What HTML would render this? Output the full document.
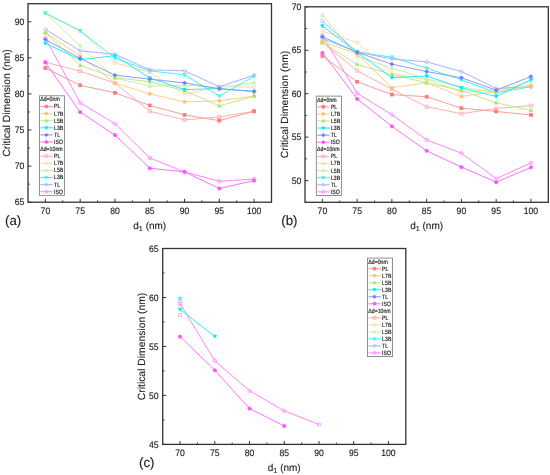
<!DOCTYPE html>
<html><head><meta charset="utf-8"><style>
html,body{margin:0;padding:0;background:#fff;}
body{width:550px;height:475px;overflow:hidden;}
svg{display:block;font-family:"Liberation Sans", sans-serif;will-change:transform;text-rendering:geometricPrecision;}
</style></head><body>
<svg width="550" height="475" viewBox="0 0 550 475">
<rect width="550" height="475" fill="#fff"/>
<polyline points="45.39,62.17 80.18,71.19 114.96,83.10 149.75,111.25 184.54,119.91 219.32,117.03 254.11,111.25" fill="none" stroke="#ffb0b0" stroke-width="1.0" stroke-linejoin="round"/>
<rect x="43.82" y="60.59" width="3.15" height="3.15" fill="none" stroke="#ffb0b0" stroke-width="0.8"/>
<rect x="78.60" y="69.61" width="3.15" height="3.15" fill="none" stroke="#ffb0b0" stroke-width="0.8"/>
<rect x="113.39" y="81.52" width="3.15" height="3.15" fill="none" stroke="#ffb0b0" stroke-width="0.8"/>
<rect x="148.18" y="109.68" width="3.15" height="3.15" fill="none" stroke="#ffb0b0" stroke-width="0.8"/>
<rect x="182.96" y="118.34" width="3.15" height="3.15" fill="none" stroke="#ffb0b0" stroke-width="0.8"/>
<rect x="217.75" y="115.45" width="3.15" height="3.15" fill="none" stroke="#ffb0b0" stroke-width="0.8"/>
<rect x="252.53" y="109.68" width="3.15" height="3.15" fill="none" stroke="#ffb0b0" stroke-width="0.8"/>
<polyline points="45.39,13.08 80.18,31.13 114.96,62.89 149.75,72.27 184.54,94.29 219.32,86.71 254.11,87.07" fill="none" stroke="#ffd9a6" stroke-width="1.0" stroke-linejoin="round"/>
<circle cx="45.39" cy="13.08" r="1.75" fill="none" stroke="#ffd9a6" stroke-width="0.8"/>
<circle cx="80.18" cy="31.13" r="1.75" fill="none" stroke="#ffd9a6" stroke-width="0.8"/>
<circle cx="114.96" cy="62.89" r="1.75" fill="none" stroke="#ffd9a6" stroke-width="0.8"/>
<circle cx="149.75" cy="72.27" r="1.75" fill="none" stroke="#ffd9a6" stroke-width="0.8"/>
<circle cx="184.54" cy="94.29" r="1.75" fill="none" stroke="#ffd9a6" stroke-width="0.8"/>
<circle cx="219.32" cy="86.71" r="1.75" fill="none" stroke="#ffd9a6" stroke-width="0.8"/>
<circle cx="254.11" cy="87.07" r="1.75" fill="none" stroke="#ffd9a6" stroke-width="0.8"/>
<polyline points="45.39,13.08 80.18,45.71 114.96,78.05 149.75,85.99 184.54,85.27 219.32,87.43 254.11,82.59" fill="none" stroke="#c8f2a2" stroke-width="1.0" stroke-linejoin="round"/>
<polygon points="45.39,11.16 47.32,14.43 43.47,14.43" fill="#c8f2a2" fill-opacity="0.55" stroke="#c8f2a2" stroke-width="0.8"/>
<polygon points="80.18,43.78 82.10,47.06 78.25,47.06" fill="#c8f2a2" fill-opacity="0.55" stroke="#c8f2a2" stroke-width="0.8"/>
<polygon points="114.96,76.12 116.89,79.39 113.04,79.39" fill="#c8f2a2" fill-opacity="0.55" stroke="#c8f2a2" stroke-width="0.8"/>
<polygon points="149.75,84.06 151.68,87.33 147.82,87.33" fill="#c8f2a2" fill-opacity="0.55" stroke="#c8f2a2" stroke-width="0.8"/>
<polygon points="184.54,83.34 186.46,86.61 182.61,86.61" fill="#c8f2a2" fill-opacity="0.55" stroke="#c8f2a2" stroke-width="0.8"/>
<polygon points="219.32,85.51 221.25,88.78 217.40,88.78" fill="#c8f2a2" fill-opacity="0.55" stroke="#c8f2a2" stroke-width="0.8"/>
<polygon points="254.11,80.67 256.03,83.94 252.18,83.94" fill="#c8f2a2" fill-opacity="0.55" stroke="#c8f2a2" stroke-width="0.8"/>
<polyline points="45.39,13.08 80.18,30.77 114.96,58.20 149.75,70.83 184.54,74.87 219.32,96.09 254.11,76.24" fill="none" stroke="#44f2f4" stroke-width="1.0" stroke-linejoin="round"/>
<polygon points="45.39,15.01 47.32,11.74 43.47,11.74" fill="#44f2f4" fill-opacity="0.55" stroke="#44f2f4" stroke-width="0.8"/>
<polygon points="80.18,32.69 82.10,29.42 78.25,29.42" fill="#44f2f4" fill-opacity="0.55" stroke="#44f2f4" stroke-width="0.8"/>
<polygon points="114.96,60.12 116.89,56.85 113.04,56.85" fill="#44f2f4" fill-opacity="0.55" stroke="#44f2f4" stroke-width="0.8"/>
<polygon points="149.75,72.75 151.68,69.48 147.82,69.48" fill="#44f2f4" fill-opacity="0.55" stroke="#44f2f4" stroke-width="0.8"/>
<polygon points="184.54,76.80 186.46,73.52 182.61,73.52" fill="#44f2f4" fill-opacity="0.55" stroke="#44f2f4" stroke-width="0.8"/>
<polygon points="219.32,98.02 221.25,94.75 217.40,94.75" fill="#44f2f4" fill-opacity="0.55" stroke="#44f2f4" stroke-width="0.8"/>
<polygon points="254.11,78.17 256.03,74.90 252.18,74.90" fill="#44f2f4" fill-opacity="0.55" stroke="#44f2f4" stroke-width="0.8"/>
<polyline points="45.39,29.40 80.18,50.83 114.96,54.30 149.75,69.75 184.54,70.83 219.32,86.71 254.11,75.16" fill="none" stroke="#a8b2fb" stroke-width="1.0" stroke-linejoin="round"/>
<polygon points="45.39,27.30 47.49,29.40 45.39,31.50 43.29,29.40" fill="none" stroke="#a8b2fb" stroke-width="0.8"/>
<polygon points="80.18,48.73 82.28,50.83 80.18,52.93 78.08,50.83" fill="none" stroke="#a8b2fb" stroke-width="0.8"/>
<polygon points="114.96,52.20 117.06,54.30 114.96,56.40 112.86,54.30" fill="none" stroke="#a8b2fb" stroke-width="0.8"/>
<polygon points="149.75,67.65 151.85,69.75 149.75,71.85 147.65,69.75" fill="none" stroke="#a8b2fb" stroke-width="0.8"/>
<polygon points="184.54,68.73 186.64,70.83 184.54,72.93 182.44,70.83" fill="none" stroke="#a8b2fb" stroke-width="0.8"/>
<polygon points="219.32,84.61 221.42,86.71 219.32,88.81 217.22,86.71" fill="none" stroke="#a8b2fb" stroke-width="0.8"/>
<polygon points="254.11,73.06 256.21,75.16 254.11,77.26 252.01,75.16" fill="none" stroke="#a8b2fb" stroke-width="0.8"/>
<polyline points="45.39,37.99 80.18,102.88 114.96,123.67 149.75,157.95 184.54,171.88 219.32,181.27 254.11,179.10" fill="none" stroke="#ff85ff" stroke-width="1.0" stroke-linejoin="round"/>
<circle cx="45.39" cy="37.99" r="1.75" fill="none" stroke="#ff85ff" stroke-width="0.8"/>
<circle cx="80.18" cy="102.88" r="1.75" fill="none" stroke="#ff85ff" stroke-width="0.8"/>
<circle cx="114.96" cy="123.67" r="1.75" fill="none" stroke="#ff85ff" stroke-width="0.8"/>
<circle cx="149.75" cy="157.95" r="1.75" fill="none" stroke="#ff85ff" stroke-width="0.8"/>
<circle cx="184.54" cy="171.88" r="1.75" fill="none" stroke="#ff85ff" stroke-width="0.8"/>
<circle cx="219.32" cy="181.27" r="1.75" fill="none" stroke="#ff85ff" stroke-width="0.8"/>
<circle cx="254.11" cy="179.10" r="1.75" fill="none" stroke="#ff85ff" stroke-width="0.8"/>
<polyline points="45.39,67.94 80.18,85.27 114.96,92.84 149.75,105.48 184.54,114.86 219.32,120.63 254.11,111.25" fill="none" stroke="#ff9c9c" stroke-width="1.0" stroke-linejoin="round"/>
<rect x="43.95" y="66.50" width="2.88" height="2.88" fill="#ff7b7b" stroke="#ff7b7b" stroke-width="0.8"/>
<rect x="78.74" y="83.83" width="2.88" height="2.88" fill="#ff7b7b" stroke="#ff7b7b" stroke-width="0.8"/>
<rect x="113.52" y="91.40" width="2.88" height="2.88" fill="#ff7b7b" stroke="#ff7b7b" stroke-width="0.8"/>
<rect x="148.31" y="104.04" width="2.88" height="2.88" fill="#ff7b7b" stroke="#ff7b7b" stroke-width="0.8"/>
<rect x="183.10" y="113.42" width="2.88" height="2.88" fill="#ff7b7b" stroke="#ff7b7b" stroke-width="0.8"/>
<rect x="217.88" y="119.19" width="2.88" height="2.88" fill="#ff7b7b" stroke="#ff7b7b" stroke-width="0.8"/>
<rect x="252.67" y="109.81" width="2.88" height="2.88" fill="#ff7b7b" stroke="#ff7b7b" stroke-width="0.8"/>
<polyline points="45.39,32.57 80.18,56.03 114.96,83.10 149.75,93.93 184.54,101.87 219.32,100.78 254.11,96.09" fill="none" stroke="#ffd08e" stroke-width="1.0" stroke-linejoin="round"/>
<circle cx="45.39" cy="32.57" r="1.60" fill="#ffc46e" stroke="#ffc46e" stroke-width="0.8"/>
<circle cx="80.18" cy="56.03" r="1.60" fill="#ffc46e" stroke="#ffc46e" stroke-width="0.8"/>
<circle cx="114.96" cy="83.10" r="1.60" fill="#ffc46e" stroke="#ffc46e" stroke-width="0.8"/>
<circle cx="149.75" cy="93.93" r="1.60" fill="#ffc46e" stroke="#ffc46e" stroke-width="0.8"/>
<circle cx="184.54" cy="101.87" r="1.60" fill="#ffc46e" stroke="#ffc46e" stroke-width="0.8"/>
<circle cx="219.32" cy="100.78" r="1.60" fill="#ffc46e" stroke="#ffc46e" stroke-width="0.8"/>
<circle cx="254.11" cy="96.09" r="1.60" fill="#ffc46e" stroke="#ffc46e" stroke-width="0.8"/>
<polyline points="45.39,32.79 80.18,65.42 114.96,77.69 149.75,81.66 184.54,90.68 219.32,105.84 254.11,96.09" fill="none" stroke="#b8ee88" stroke-width="1.0" stroke-linejoin="round"/>
<polygon points="45.39,31.03 47.15,34.02 43.63,34.02" fill="#a6e866" stroke="#a6e866" stroke-width="0.8"/>
<polygon points="80.18,63.66 81.94,66.65 78.42,66.65" fill="#a6e866" stroke="#a6e866" stroke-width="0.8"/>
<polygon points="114.96,75.93 116.72,78.92 113.20,78.92" fill="#a6e866" stroke="#a6e866" stroke-width="0.8"/>
<polygon points="149.75,79.90 151.51,82.89 147.99,82.89" fill="#a6e866" stroke="#a6e866" stroke-width="0.8"/>
<polygon points="184.54,88.92 186.30,91.91 182.78,91.91" fill="#a6e866" stroke="#a6e866" stroke-width="0.8"/>
<polygon points="219.32,104.08 221.08,107.07 217.56,107.07" fill="#a6e866" stroke="#a6e866" stroke-width="0.8"/>
<polygon points="254.11,94.33 255.87,97.32 252.35,97.32" fill="#a6e866" stroke="#a6e866" stroke-width="0.8"/>
<polyline points="45.39,43.40 80.18,59.64 114.96,55.67 149.75,78.05 184.54,89.60 219.32,88.51 254.11,91.40" fill="none" stroke="#22f0f2" stroke-width="1.0" stroke-linejoin="round"/>
<polygon points="45.39,45.16 47.15,42.17 43.63,42.17" fill="#00eef0" stroke="#00eef0" stroke-width="0.8"/>
<polygon points="80.18,61.40 81.94,58.41 78.42,58.41" fill="#00eef0" stroke="#00eef0" stroke-width="0.8"/>
<polygon points="114.96,57.43 116.72,54.44 113.20,54.44" fill="#00eef0" stroke="#00eef0" stroke-width="0.8"/>
<polygon points="149.75,79.81 151.51,76.82 147.99,76.82" fill="#00eef0" stroke="#00eef0" stroke-width="0.8"/>
<polygon points="184.54,91.36 186.30,88.36 182.78,88.36" fill="#00eef0" stroke="#00eef0" stroke-width="0.8"/>
<polygon points="219.32,90.27 221.08,87.28 217.56,87.28" fill="#00eef0" stroke="#00eef0" stroke-width="0.8"/>
<polygon points="254.11,93.16 255.87,90.17 252.35,90.17" fill="#00eef0" stroke="#00eef0" stroke-width="0.8"/>
<polyline points="45.39,39.43 80.18,58.41 114.96,75.16 149.75,79.13 184.54,82.88 219.32,88.87 254.11,91.55" fill="none" stroke="#8e9bfa" stroke-width="1.0" stroke-linejoin="round"/>
<polygon points="45.39,37.51 47.31,39.43 45.39,41.35 43.47,39.43" fill="#6f7ff8" stroke="#6f7ff8" stroke-width="0.8"/>
<polygon points="80.18,56.49 82.10,58.41 80.18,60.33 78.26,58.41" fill="#6f7ff8" stroke="#6f7ff8" stroke-width="0.8"/>
<polygon points="114.96,73.24 116.88,75.16 114.96,77.08 113.04,75.16" fill="#6f7ff8" stroke="#6f7ff8" stroke-width="0.8"/>
<polygon points="149.75,77.21 151.67,79.13 149.75,81.05 147.83,79.13" fill="#6f7ff8" stroke="#6f7ff8" stroke-width="0.8"/>
<polygon points="184.54,80.96 186.46,82.88 184.54,84.80 182.62,82.88" fill="#6f7ff8" stroke="#6f7ff8" stroke-width="0.8"/>
<polygon points="219.32,86.95 221.24,88.87 219.32,90.79 217.40,88.87" fill="#6f7ff8" stroke="#6f7ff8" stroke-width="0.8"/>
<polygon points="254.11,89.63 256.03,91.55 254.11,93.47 252.19,91.55" fill="#6f7ff8" stroke="#6f7ff8" stroke-width="0.8"/>
<polyline points="45.39,62.38 80.18,112.19 114.96,135.07 149.75,168.27 184.54,171.88 219.32,188.49 254.11,180.55" fill="none" stroke="#ff70ff" stroke-width="1.0" stroke-linejoin="round"/>
<circle cx="45.39" cy="62.38" r="1.60" fill="#ff52ff" stroke="#ff52ff" stroke-width="0.8"/>
<circle cx="80.18" cy="112.19" r="1.60" fill="#ff52ff" stroke="#ff52ff" stroke-width="0.8"/>
<circle cx="114.96" cy="135.07" r="1.60" fill="#ff52ff" stroke="#ff52ff" stroke-width="0.8"/>
<circle cx="149.75" cy="168.27" r="1.60" fill="#ff52ff" stroke="#ff52ff" stroke-width="0.8"/>
<circle cx="184.54" cy="171.88" r="1.60" fill="#ff52ff" stroke="#ff52ff" stroke-width="0.8"/>
<circle cx="219.32" cy="188.49" r="1.60" fill="#ff52ff" stroke="#ff52ff" stroke-width="0.8"/>
<circle cx="254.11" cy="180.55" r="1.60" fill="#ff52ff" stroke="#ff52ff" stroke-width="0.8"/>
<rect x="28.0" y="3.7" width="243.50" height="198.50" fill="none" stroke="#333" stroke-width="1.3"/>
<line x1="45.39" y1="202.2" x2="45.39" y2="198.80" stroke="#333" stroke-width="1"/>
<text transform="translate(45.39,213.70) scale(0.93,1)" font-size="9.3" text-anchor="middle" fill="#222" stroke="#222" stroke-width="0.15">70</text>
<line x1="80.18" y1="202.2" x2="80.18" y2="198.80" stroke="#333" stroke-width="1"/>
<text transform="translate(80.18,213.70) scale(0.93,1)" font-size="9.3" text-anchor="middle" fill="#222" stroke="#222" stroke-width="0.15">75</text>
<line x1="114.96" y1="202.2" x2="114.96" y2="198.80" stroke="#333" stroke-width="1"/>
<text transform="translate(114.96,213.70) scale(0.93,1)" font-size="9.3" text-anchor="middle" fill="#222" stroke="#222" stroke-width="0.15">80</text>
<line x1="149.75" y1="202.2" x2="149.75" y2="198.80" stroke="#333" stroke-width="1"/>
<text transform="translate(149.75,213.70) scale(0.93,1)" font-size="9.3" text-anchor="middle" fill="#222" stroke="#222" stroke-width="0.15">85</text>
<line x1="184.54" y1="202.2" x2="184.54" y2="198.80" stroke="#333" stroke-width="1"/>
<text transform="translate(184.54,213.70) scale(0.93,1)" font-size="9.3" text-anchor="middle" fill="#222" stroke="#222" stroke-width="0.15">90</text>
<line x1="219.32" y1="202.2" x2="219.32" y2="198.80" stroke="#333" stroke-width="1"/>
<text transform="translate(219.32,213.70) scale(0.93,1)" font-size="9.3" text-anchor="middle" fill="#222" stroke="#222" stroke-width="0.15">95</text>
<line x1="254.11" y1="202.2" x2="254.11" y2="198.80" stroke="#333" stroke-width="1"/>
<text transform="translate(254.11,213.70) scale(0.93,1)" font-size="9.3" text-anchor="middle" fill="#222" stroke="#222" stroke-width="0.15">100</text>
<line x1="62.79" y1="202.2" x2="62.79" y2="200.40" stroke="#333" stroke-width="1"/>
<line x1="97.57" y1="202.2" x2="97.57" y2="200.40" stroke="#333" stroke-width="1"/>
<line x1="132.36" y1="202.2" x2="132.36" y2="200.40" stroke="#333" stroke-width="1"/>
<line x1="167.14" y1="202.2" x2="167.14" y2="200.40" stroke="#333" stroke-width="1"/>
<line x1="201.93" y1="202.2" x2="201.93" y2="200.40" stroke="#333" stroke-width="1"/>
<line x1="236.71" y1="202.2" x2="236.71" y2="200.40" stroke="#333" stroke-width="1"/>
<line x1="28.0" y1="202.20" x2="31.40" y2="202.20" stroke="#333" stroke-width="1"/>
<text transform="translate(24.30,205.15) scale(0.93,1)" font-size="9.3" text-anchor="end" fill="#222" stroke="#222" stroke-width="0.15">65</text>
<line x1="28.0" y1="166.11" x2="31.40" y2="166.11" stroke="#333" stroke-width="1"/>
<text transform="translate(24.30,169.06) scale(0.93,1)" font-size="9.3" text-anchor="end" fill="#222" stroke="#222" stroke-width="0.15">70</text>
<line x1="28.0" y1="130.02" x2="31.40" y2="130.02" stroke="#333" stroke-width="1"/>
<text transform="translate(24.30,132.97) scale(0.93,1)" font-size="9.3" text-anchor="end" fill="#222" stroke="#222" stroke-width="0.15">75</text>
<line x1="28.0" y1="93.93" x2="31.40" y2="93.93" stroke="#333" stroke-width="1"/>
<text transform="translate(24.30,96.88) scale(0.93,1)" font-size="9.3" text-anchor="end" fill="#222" stroke="#222" stroke-width="0.15">80</text>
<line x1="28.0" y1="57.84" x2="31.40" y2="57.84" stroke="#333" stroke-width="1"/>
<text transform="translate(24.30,60.79) scale(0.93,1)" font-size="9.3" text-anchor="end" fill="#222" stroke="#222" stroke-width="0.15">85</text>
<line x1="28.0" y1="21.75" x2="31.40" y2="21.75" stroke="#333" stroke-width="1"/>
<text transform="translate(24.30,24.70) scale(0.93,1)" font-size="9.3" text-anchor="end" fill="#222" stroke="#222" stroke-width="0.15">90</text>
<line x1="28.0" y1="184.15" x2="29.80" y2="184.15" stroke="#333" stroke-width="1"/>
<line x1="28.0" y1="148.06" x2="29.80" y2="148.06" stroke="#333" stroke-width="1"/>
<line x1="28.0" y1="111.97" x2="29.80" y2="111.97" stroke="#333" stroke-width="1"/>
<line x1="28.0" y1="75.88" x2="29.80" y2="75.88" stroke="#333" stroke-width="1"/>
<line x1="28.0" y1="39.79" x2="29.80" y2="39.79" stroke="#333" stroke-width="1"/>
<text x="149.75" y="228.70" font-size="10.0" text-anchor="middle" fill="#222" stroke="#222" stroke-width="0.12">d<tspan font-size="7.2" dy="2.2">1</tspan><tspan dy="-2.2"> (nm)</tspan></text>
<text transform="translate(9.50,102.95) rotate(-90)" font-size="10.35" text-anchor="middle" fill="#222" stroke="#222" stroke-width="0.12">Critical Dimension (nm)</text>
<text x="5.0" y="224.9" font-size="13.3" fill="#222" stroke="#222" stroke-width="0.12">(a)</text>
<rect x="39.4" y="95.8" width="25.10" height="99.50" fill="#fff" stroke="#777" stroke-width="0.8"/>
<text transform="translate(40.20,101.20) scale(0.84,1)" font-size="6.2" text-anchor="start" fill="#222" stroke="#222" stroke-width="0.18">Δd=0nm</text>
<line x1="40.40" y1="106.50" x2="52.80" y2="106.50" stroke="#ff9c9c" stroke-width="1.1"/>
<rect x="45.09" y="105.19" width="2.61" height="2.61" fill="#ff7b7b" stroke="#ff7b7b" stroke-width="0.8"/>
<text transform="translate(54.00,108.40) scale(0.84,1)" font-size="6.2" text-anchor="start" fill="#222" stroke="#222" stroke-width="0.18">PL</text>
<line x1="40.40" y1="113.60" x2="52.80" y2="113.60" stroke="#ffd08e" stroke-width="1.1"/>
<circle cx="46.40" cy="113.60" r="1.45" fill="#ffc46e" stroke="#ffc46e" stroke-width="0.8"/>
<text transform="translate(54.00,115.50) scale(0.84,1)" font-size="6.2" text-anchor="start" fill="#222" stroke="#222" stroke-width="0.18">L7B</text>
<line x1="40.40" y1="120.70" x2="52.80" y2="120.70" stroke="#b8ee88" stroke-width="1.1"/>
<polygon points="46.40,119.10 47.99,121.82 44.80,121.82" fill="#a6e866" stroke="#a6e866" stroke-width="0.8"/>
<text transform="translate(54.00,122.60) scale(0.84,1)" font-size="6.2" text-anchor="start" fill="#222" stroke="#222" stroke-width="0.18">L5B</text>
<line x1="40.40" y1="127.80" x2="52.80" y2="127.80" stroke="#22f0f2" stroke-width="1.1"/>
<polygon points="46.40,129.40 47.99,126.68 44.80,126.68" fill="#00eef0" stroke="#00eef0" stroke-width="0.8"/>
<text transform="translate(54.00,129.70) scale(0.84,1)" font-size="6.2" text-anchor="start" fill="#222" stroke="#222" stroke-width="0.18">L3B</text>
<line x1="40.40" y1="134.90" x2="52.80" y2="134.90" stroke="#8e9bfa" stroke-width="1.1"/>
<polygon points="46.40,133.16 48.14,134.90 46.40,136.64 44.66,134.90" fill="#6f7ff8" stroke="#6f7ff8" stroke-width="0.8"/>
<text transform="translate(54.00,136.80) scale(0.84,1)" font-size="6.2" text-anchor="start" fill="#222" stroke="#222" stroke-width="0.18">TL</text>
<line x1="40.40" y1="142.00" x2="52.80" y2="142.00" stroke="#ff70ff" stroke-width="1.1"/>
<circle cx="46.40" cy="142.00" r="1.45" fill="#ff52ff" stroke="#ff52ff" stroke-width="0.8"/>
<text transform="translate(54.00,143.90) scale(0.84,1)" font-size="6.2" text-anchor="start" fill="#222" stroke="#222" stroke-width="0.18">ISO</text>
<text transform="translate(40.20,150.90) scale(0.84,1)" font-size="6.2" text-anchor="start" fill="#222" stroke="#222" stroke-width="0.18">Δd=10nm</text>
<line x1="40.40" y1="156.20" x2="52.80" y2="156.20" stroke="#ffb0b0" stroke-width="1.1"/>
<rect x="45.00" y="154.80" width="2.79" height="2.79" fill="none" stroke="#ffb0b0" stroke-width="0.8"/>
<text transform="translate(54.00,158.10) scale(0.84,1)" font-size="6.2" text-anchor="start" fill="#222" stroke="#222" stroke-width="0.18">PL</text>
<line x1="40.40" y1="163.30" x2="52.80" y2="163.30" stroke="#ffd9a6" stroke-width="1.1"/>
<circle cx="46.40" cy="163.30" r="1.55" fill="none" stroke="#ffd9a6" stroke-width="0.8"/>
<text transform="translate(54.00,165.20) scale(0.84,1)" font-size="6.2" text-anchor="start" fill="#222" stroke="#222" stroke-width="0.18">L7B</text>
<line x1="40.40" y1="170.40" x2="52.80" y2="170.40" stroke="#c8f2a2" stroke-width="1.1"/>
<polygon points="46.40,168.69 48.10,171.59 44.70,171.59" fill="#c8f2a2" fill-opacity="0.55" stroke="#c8f2a2" stroke-width="0.8"/>
<text transform="translate(54.00,172.30) scale(0.84,1)" font-size="6.2" text-anchor="start" fill="#222" stroke="#222" stroke-width="0.18">L5B</text>
<line x1="40.40" y1="177.50" x2="52.80" y2="177.50" stroke="#44f2f4" stroke-width="1.1"/>
<polygon points="46.40,179.21 48.10,176.31 44.70,176.31" fill="#44f2f4" fill-opacity="0.55" stroke="#44f2f4" stroke-width="0.8"/>
<text transform="translate(54.00,179.40) scale(0.84,1)" font-size="6.2" text-anchor="start" fill="#222" stroke="#222" stroke-width="0.18">L3B</text>
<line x1="40.40" y1="184.60" x2="52.80" y2="184.60" stroke="#a8b2fb" stroke-width="1.1"/>
<polygon points="46.40,182.74 48.26,184.60 46.40,186.46 44.54,184.60" fill="none" stroke="#a8b2fb" stroke-width="0.8"/>
<text transform="translate(54.00,186.50) scale(0.84,1)" font-size="6.2" text-anchor="start" fill="#222" stroke="#222" stroke-width="0.18">TL</text>
<line x1="40.40" y1="191.70" x2="52.80" y2="191.70" stroke="#ff85ff" stroke-width="1.1"/>
<circle cx="46.40" cy="191.70" r="1.55" fill="none" stroke="#ff85ff" stroke-width="0.8"/>
<text transform="translate(54.00,193.60) scale(0.84,1)" font-size="6.2" text-anchor="start" fill="#222" stroke="#222" stroke-width="0.18">ISO</text>
<polyline points="322.38,42.42 357.14,70.66 391.89,89.34 426.65,106.81 461.41,113.67 496.16,108.46 530.92,105.59" fill="none" stroke="#ffb0b0" stroke-width="1.0" stroke-linejoin="round"/>
<rect x="320.80" y="40.85" width="3.15" height="3.15" fill="none" stroke="#ffb0b0" stroke-width="0.8"/>
<rect x="355.56" y="69.09" width="3.15" height="3.15" fill="none" stroke="#ffb0b0" stroke-width="0.8"/>
<rect x="390.32" y="87.77" width="3.15" height="3.15" fill="none" stroke="#ffb0b0" stroke-width="0.8"/>
<rect x="425.07" y="105.23" width="3.15" height="3.15" fill="none" stroke="#ffb0b0" stroke-width="0.8"/>
<rect x="459.83" y="112.10" width="3.15" height="3.15" fill="none" stroke="#ffb0b0" stroke-width="0.8"/>
<rect x="494.59" y="106.89" width="3.15" height="3.15" fill="none" stroke="#ffb0b0" stroke-width="0.8"/>
<rect x="529.35" y="104.02" width="3.15" height="3.15" fill="none" stroke="#ffb0b0" stroke-width="0.8"/>
<polyline points="322.38,31.39 357.14,42.42 391.89,73.27 426.65,79.79 461.41,91.95 496.16,89.34 530.92,85.00" fill="none" stroke="#ffd9a6" stroke-width="1.0" stroke-linejoin="round"/>
<circle cx="322.38" cy="31.39" r="1.75" fill="none" stroke="#ffd9a6" stroke-width="0.8"/>
<circle cx="357.14" cy="42.42" r="1.75" fill="none" stroke="#ffd9a6" stroke-width="0.8"/>
<circle cx="391.89" cy="73.27" r="1.75" fill="none" stroke="#ffd9a6" stroke-width="0.8"/>
<circle cx="426.65" cy="79.79" r="1.75" fill="none" stroke="#ffd9a6" stroke-width="0.8"/>
<circle cx="461.41" cy="91.95" r="1.75" fill="none" stroke="#ffd9a6" stroke-width="0.8"/>
<circle cx="496.16" cy="89.34" r="1.75" fill="none" stroke="#ffd9a6" stroke-width="0.8"/>
<circle cx="530.92" cy="85.00" r="1.75" fill="none" stroke="#ffd9a6" stroke-width="0.8"/>
<polyline points="322.38,15.05 357.14,56.07 391.89,68.06 426.65,78.92 461.41,86.74 496.16,92.82 530.92,80.66" fill="none" stroke="#c8f2a2" stroke-width="1.0" stroke-linejoin="round"/>
<polygon points="322.38,13.13 324.30,16.40 320.45,16.40" fill="#c8f2a2" fill-opacity="0.55" stroke="#c8f2a2" stroke-width="0.8"/>
<polygon points="357.14,54.14 359.06,57.41 355.21,57.41" fill="#c8f2a2" fill-opacity="0.55" stroke="#c8f2a2" stroke-width="0.8"/>
<polygon points="391.89,66.13 393.82,69.40 389.97,69.40" fill="#c8f2a2" fill-opacity="0.55" stroke="#c8f2a2" stroke-width="0.8"/>
<polygon points="426.65,76.99 428.57,80.27 424.72,80.27" fill="#c8f2a2" fill-opacity="0.55" stroke="#c8f2a2" stroke-width="0.8"/>
<polygon points="461.41,84.81 463.33,88.09 459.48,88.09" fill="#c8f2a2" fill-opacity="0.55" stroke="#c8f2a2" stroke-width="0.8"/>
<polygon points="496.16,90.90 498.09,94.17 494.24,94.17" fill="#c8f2a2" fill-opacity="0.55" stroke="#c8f2a2" stroke-width="0.8"/>
<polygon points="530.92,78.73 532.85,82.00 529.00,82.00" fill="#c8f2a2" fill-opacity="0.55" stroke="#c8f2a2" stroke-width="0.8"/>
<polyline points="322.38,38.51 357.14,51.98 391.89,57.20 426.65,68.23 461.41,79.79 496.16,92.82 530.92,86.74" fill="none" stroke="#44f2f4" stroke-width="1.0" stroke-linejoin="round"/>
<polygon points="322.38,40.44 324.30,37.17 320.45,37.17" fill="#44f2f4" fill-opacity="0.55" stroke="#44f2f4" stroke-width="0.8"/>
<polygon points="357.14,53.91 359.06,50.63 355.21,50.63" fill="#44f2f4" fill-opacity="0.55" stroke="#44f2f4" stroke-width="0.8"/>
<polygon points="391.89,59.12 393.82,55.85 389.97,55.85" fill="#44f2f4" fill-opacity="0.55" stroke="#44f2f4" stroke-width="0.8"/>
<polygon points="426.65,70.16 428.57,66.88 424.72,66.88" fill="#44f2f4" fill-opacity="0.55" stroke="#44f2f4" stroke-width="0.8"/>
<polygon points="461.41,81.71 463.33,78.44 459.48,78.44" fill="#44f2f4" fill-opacity="0.55" stroke="#44f2f4" stroke-width="0.8"/>
<polygon points="496.16,94.75 498.09,91.47 494.24,91.47" fill="#44f2f4" fill-opacity="0.55" stroke="#44f2f4" stroke-width="0.8"/>
<polygon points="530.92,88.66 532.85,85.39 529.00,85.39" fill="#44f2f4" fill-opacity="0.55" stroke="#44f2f4" stroke-width="0.8"/>
<polyline points="322.38,20.96 357.14,51.98 391.89,58.93 426.65,61.89 461.41,71.53 496.16,88.48 530.92,86.74" fill="none" stroke="#a8b2fb" stroke-width="1.0" stroke-linejoin="round"/>
<polygon points="322.38,18.86 324.48,20.96 322.38,23.06 320.28,20.96" fill="none" stroke="#a8b2fb" stroke-width="0.8"/>
<polygon points="357.14,49.88 359.24,51.98 357.14,54.08 355.04,51.98" fill="none" stroke="#a8b2fb" stroke-width="0.8"/>
<polygon points="391.89,56.83 393.99,58.93 391.89,61.03 389.79,58.93" fill="none" stroke="#a8b2fb" stroke-width="0.8"/>
<polygon points="426.65,59.79 428.75,61.89 426.65,63.99 424.55,61.89" fill="none" stroke="#a8b2fb" stroke-width="0.8"/>
<polygon points="461.41,69.43 463.51,71.53 461.41,73.63 459.31,71.53" fill="none" stroke="#a8b2fb" stroke-width="0.8"/>
<polygon points="496.16,86.38 498.26,88.48 496.16,90.58 494.06,88.48" fill="none" stroke="#a8b2fb" stroke-width="0.8"/>
<polygon points="530.92,84.64 533.02,86.74 530.92,88.84 528.82,86.74" fill="none" stroke="#a8b2fb" stroke-width="0.8"/>
<polyline points="322.38,35.47 357.14,93.25 391.89,114.72 426.65,139.91 461.41,153.21 496.16,178.58 530.92,162.85" fill="none" stroke="#ff85ff" stroke-width="1.0" stroke-linejoin="round"/>
<circle cx="322.38" cy="35.47" r="1.75" fill="none" stroke="#ff85ff" stroke-width="0.8"/>
<circle cx="357.14" cy="93.25" r="1.75" fill="none" stroke="#ff85ff" stroke-width="0.8"/>
<circle cx="391.89" cy="114.72" r="1.75" fill="none" stroke="#ff85ff" stroke-width="0.8"/>
<circle cx="426.65" cy="139.91" r="1.75" fill="none" stroke="#ff85ff" stroke-width="0.8"/>
<circle cx="461.41" cy="153.21" r="1.75" fill="none" stroke="#ff85ff" stroke-width="0.8"/>
<circle cx="496.16" cy="178.58" r="1.75" fill="none" stroke="#ff85ff" stroke-width="0.8"/>
<circle cx="530.92" cy="162.85" r="1.75" fill="none" stroke="#ff85ff" stroke-width="0.8"/>
<polyline points="322.38,55.89 357.14,81.79 391.89,94.56 426.65,96.73 461.41,108.20 496.16,111.50 530.92,114.89" fill="none" stroke="#ff9c9c" stroke-width="1.0" stroke-linejoin="round"/>
<rect x="320.94" y="54.45" width="2.88" height="2.88" fill="#ff7b7b" stroke="#ff7b7b" stroke-width="0.8"/>
<rect x="355.70" y="80.35" width="2.88" height="2.88" fill="#ff7b7b" stroke="#ff7b7b" stroke-width="0.8"/>
<rect x="390.45" y="93.12" width="2.88" height="2.88" fill="#ff7b7b" stroke="#ff7b7b" stroke-width="0.8"/>
<rect x="425.21" y="95.29" width="2.88" height="2.88" fill="#ff7b7b" stroke="#ff7b7b" stroke-width="0.8"/>
<rect x="459.97" y="106.76" width="2.88" height="2.88" fill="#ff7b7b" stroke="#ff7b7b" stroke-width="0.8"/>
<rect x="494.72" y="110.06" width="2.88" height="2.88" fill="#ff7b7b" stroke="#ff7b7b" stroke-width="0.8"/>
<rect x="529.48" y="113.45" width="2.88" height="2.88" fill="#ff7b7b" stroke="#ff7b7b" stroke-width="0.8"/>
<polyline points="322.38,41.56 357.14,53.72 391.89,87.61 426.65,82.83 461.41,96.56 496.16,91.52 530.92,85.87" fill="none" stroke="#ffd08e" stroke-width="1.0" stroke-linejoin="round"/>
<circle cx="322.38" cy="41.56" r="1.60" fill="#ffc46e" stroke="#ffc46e" stroke-width="0.8"/>
<circle cx="357.14" cy="53.72" r="1.60" fill="#ffc46e" stroke="#ffc46e" stroke-width="0.8"/>
<circle cx="391.89" cy="87.61" r="1.60" fill="#ffc46e" stroke="#ffc46e" stroke-width="0.8"/>
<circle cx="426.65" cy="82.83" r="1.60" fill="#ffc46e" stroke="#ffc46e" stroke-width="0.8"/>
<circle cx="461.41" cy="96.56" r="1.60" fill="#ffc46e" stroke="#ffc46e" stroke-width="0.8"/>
<circle cx="496.16" cy="91.52" r="1.60" fill="#ffc46e" stroke="#ffc46e" stroke-width="0.8"/>
<circle cx="530.92" cy="85.87" r="1.60" fill="#ffc46e" stroke="#ffc46e" stroke-width="0.8"/>
<polyline points="322.38,42.42 357.14,64.41 391.89,74.57 426.65,82.83 461.41,90.39 496.16,102.81 530.92,110.37" fill="none" stroke="#b8ee88" stroke-width="1.0" stroke-linejoin="round"/>
<polygon points="322.38,40.66 324.14,43.66 320.62,43.66" fill="#a6e866" stroke="#a6e866" stroke-width="0.8"/>
<polygon points="357.14,62.65 358.90,65.64 355.38,65.64" fill="#a6e866" stroke="#a6e866" stroke-width="0.8"/>
<polygon points="391.89,72.81 393.65,75.81 390.13,75.81" fill="#a6e866" stroke="#a6e866" stroke-width="0.8"/>
<polygon points="426.65,81.07 428.41,84.06 424.89,84.06" fill="#a6e866" stroke="#a6e866" stroke-width="0.8"/>
<polygon points="461.41,88.63 463.17,91.62 459.65,91.62" fill="#a6e866" stroke="#a6e866" stroke-width="0.8"/>
<polygon points="496.16,101.05 497.92,104.04 494.40,104.04" fill="#a6e866" stroke="#a6e866" stroke-width="0.8"/>
<polygon points="530.92,108.61 532.68,111.60 529.16,111.60" fill="#a6e866" stroke="#a6e866" stroke-width="0.8"/>
<polyline points="322.38,25.92 357.14,52.42 391.89,77.70 426.65,75.96 461.41,87.87 496.16,96.47 530.92,79.79" fill="none" stroke="#22f0f2" stroke-width="1.0" stroke-linejoin="round"/>
<polygon points="322.38,27.68 324.14,24.68 320.62,24.68" fill="#00eef0" stroke="#00eef0" stroke-width="0.8"/>
<polygon points="357.14,54.18 358.90,51.18 355.38,51.18" fill="#00eef0" stroke="#00eef0" stroke-width="0.8"/>
<polygon points="391.89,79.46 393.65,76.47 390.13,76.47" fill="#00eef0" stroke="#00eef0" stroke-width="0.8"/>
<polygon points="426.65,77.72 428.41,74.73 424.89,74.73" fill="#00eef0" stroke="#00eef0" stroke-width="0.8"/>
<polygon points="461.41,89.63 463.17,86.64 459.65,86.64" fill="#00eef0" stroke="#00eef0" stroke-width="0.8"/>
<polygon points="496.16,98.23 497.92,95.24 494.40,95.24" fill="#00eef0" stroke="#00eef0" stroke-width="0.8"/>
<polygon points="530.92,81.55 532.68,78.55 529.16,78.55" fill="#00eef0" stroke="#00eef0" stroke-width="0.8"/>
<polyline points="322.38,36.78 357.14,52.42 391.89,64.15 426.65,71.62 461.41,77.79 496.16,90.21 530.92,76.48" fill="none" stroke="#8e9bfa" stroke-width="1.0" stroke-linejoin="round"/>
<polygon points="322.38,34.86 324.30,36.78 322.38,38.70 320.46,36.78" fill="#6f7ff8" stroke="#6f7ff8" stroke-width="0.8"/>
<polygon points="357.14,50.50 359.06,52.42 357.14,54.34 355.22,52.42" fill="#6f7ff8" stroke="#6f7ff8" stroke-width="0.8"/>
<polygon points="391.89,62.23 393.81,64.15 391.89,66.07 389.97,64.15" fill="#6f7ff8" stroke="#6f7ff8" stroke-width="0.8"/>
<polygon points="426.65,69.70 428.57,71.62 426.65,73.54 424.73,71.62" fill="#6f7ff8" stroke="#6f7ff8" stroke-width="0.8"/>
<polygon points="461.41,75.87 463.33,77.79 461.41,79.71 459.49,77.79" fill="#6f7ff8" stroke="#6f7ff8" stroke-width="0.8"/>
<polygon points="496.16,88.29 498.08,90.21 496.16,92.13 494.24,90.21" fill="#6f7ff8" stroke="#6f7ff8" stroke-width="0.8"/>
<polygon points="530.92,74.56 532.84,76.48 530.92,78.40 529.00,76.48" fill="#6f7ff8" stroke="#6f7ff8" stroke-width="0.8"/>
<polyline points="322.38,52.85 357.14,98.90 391.89,126.27 426.65,150.86 461.41,167.11 496.16,182.14 530.92,167.37" fill="none" stroke="#ff70ff" stroke-width="1.0" stroke-linejoin="round"/>
<circle cx="322.38" cy="52.85" r="1.60" fill="#ff52ff" stroke="#ff52ff" stroke-width="0.8"/>
<circle cx="357.14" cy="98.90" r="1.60" fill="#ff52ff" stroke="#ff52ff" stroke-width="0.8"/>
<circle cx="391.89" cy="126.27" r="1.60" fill="#ff52ff" stroke="#ff52ff" stroke-width="0.8"/>
<circle cx="426.65" cy="150.86" r="1.60" fill="#ff52ff" stroke="#ff52ff" stroke-width="0.8"/>
<circle cx="461.41" cy="167.11" r="1.60" fill="#ff52ff" stroke="#ff52ff" stroke-width="0.8"/>
<circle cx="496.16" cy="182.14" r="1.60" fill="#ff52ff" stroke="#ff52ff" stroke-width="0.8"/>
<circle cx="530.92" cy="167.37" r="1.60" fill="#ff52ff" stroke="#ff52ff" stroke-width="0.8"/>
<rect x="305.0" y="6.8" width="243.30" height="195.50" fill="none" stroke="#333" stroke-width="1.3"/>
<line x1="322.38" y1="202.3" x2="322.38" y2="198.90" stroke="#333" stroke-width="1"/>
<text transform="translate(322.38,213.80) scale(0.93,1)" font-size="9.3" text-anchor="middle" fill="#222" stroke="#222" stroke-width="0.15">70</text>
<line x1="357.14" y1="202.3" x2="357.14" y2="198.90" stroke="#333" stroke-width="1"/>
<text transform="translate(357.14,213.80) scale(0.93,1)" font-size="9.3" text-anchor="middle" fill="#222" stroke="#222" stroke-width="0.15">75</text>
<line x1="391.89" y1="202.3" x2="391.89" y2="198.90" stroke="#333" stroke-width="1"/>
<text transform="translate(391.89,213.80) scale(0.93,1)" font-size="9.3" text-anchor="middle" fill="#222" stroke="#222" stroke-width="0.15">80</text>
<line x1="426.65" y1="202.3" x2="426.65" y2="198.90" stroke="#333" stroke-width="1"/>
<text transform="translate(426.65,213.80) scale(0.93,1)" font-size="9.3" text-anchor="middle" fill="#222" stroke="#222" stroke-width="0.15">85</text>
<line x1="461.41" y1="202.3" x2="461.41" y2="198.90" stroke="#333" stroke-width="1"/>
<text transform="translate(461.41,213.80) scale(0.93,1)" font-size="9.3" text-anchor="middle" fill="#222" stroke="#222" stroke-width="0.15">90</text>
<line x1="496.16" y1="202.3" x2="496.16" y2="198.90" stroke="#333" stroke-width="1"/>
<text transform="translate(496.16,213.80) scale(0.93,1)" font-size="9.3" text-anchor="middle" fill="#222" stroke="#222" stroke-width="0.15">95</text>
<line x1="530.92" y1="202.3" x2="530.92" y2="198.90" stroke="#333" stroke-width="1"/>
<text transform="translate(530.92,213.80) scale(0.93,1)" font-size="9.3" text-anchor="middle" fill="#222" stroke="#222" stroke-width="0.15">100</text>
<line x1="339.76" y1="202.3" x2="339.76" y2="200.50" stroke="#333" stroke-width="1"/>
<line x1="374.51" y1="202.3" x2="374.51" y2="200.50" stroke="#333" stroke-width="1"/>
<line x1="409.27" y1="202.3" x2="409.27" y2="200.50" stroke="#333" stroke-width="1"/>
<line x1="444.03" y1="202.3" x2="444.03" y2="200.50" stroke="#333" stroke-width="1"/>
<line x1="478.79" y1="202.3" x2="478.79" y2="200.50" stroke="#333" stroke-width="1"/>
<line x1="513.54" y1="202.3" x2="513.54" y2="200.50" stroke="#333" stroke-width="1"/>
<line x1="305.0" y1="180.58" x2="308.40" y2="180.58" stroke="#333" stroke-width="1"/>
<text transform="translate(301.30,183.53) scale(0.93,1)" font-size="9.3" text-anchor="end" fill="#222" stroke="#222" stroke-width="0.15">50</text>
<line x1="305.0" y1="137.13" x2="308.40" y2="137.13" stroke="#333" stroke-width="1"/>
<text transform="translate(301.30,140.08) scale(0.93,1)" font-size="9.3" text-anchor="end" fill="#222" stroke="#222" stroke-width="0.15">55</text>
<line x1="305.0" y1="93.69" x2="308.40" y2="93.69" stroke="#333" stroke-width="1"/>
<text transform="translate(301.30,96.64) scale(0.93,1)" font-size="9.3" text-anchor="end" fill="#222" stroke="#222" stroke-width="0.15">60</text>
<line x1="305.0" y1="50.24" x2="308.40" y2="50.24" stroke="#333" stroke-width="1"/>
<text transform="translate(301.30,53.19) scale(0.93,1)" font-size="9.3" text-anchor="end" fill="#222" stroke="#222" stroke-width="0.15">65</text>
<line x1="305.0" y1="6.80" x2="308.40" y2="6.80" stroke="#333" stroke-width="1"/>
<text transform="translate(301.30,9.75) scale(0.93,1)" font-size="9.3" text-anchor="end" fill="#222" stroke="#222" stroke-width="0.15">70</text>
<line x1="305.0" y1="202.30" x2="306.80" y2="202.30" stroke="#333" stroke-width="1"/>
<line x1="305.0" y1="158.86" x2="306.80" y2="158.86" stroke="#333" stroke-width="1"/>
<line x1="305.0" y1="115.41" x2="306.80" y2="115.41" stroke="#333" stroke-width="1"/>
<line x1="305.0" y1="71.97" x2="306.80" y2="71.97" stroke="#333" stroke-width="1"/>
<line x1="305.0" y1="28.52" x2="306.80" y2="28.52" stroke="#333" stroke-width="1"/>
<text x="426.65" y="228.80" font-size="10.0" text-anchor="middle" fill="#222" stroke="#222" stroke-width="0.12">d<tspan font-size="7.2" dy="2.2">1</tspan><tspan dy="-2.2"> (nm)</tspan></text>
<text transform="translate(287.50,104.55) rotate(-90)" font-size="10.35" text-anchor="middle" fill="#222" stroke="#222" stroke-width="0.12">Critical Dimension (nm)</text>
<text x="281.3" y="224.9" font-size="13.3" fill="#222" stroke="#222" stroke-width="0.12">(b)</text>
<rect x="316.3" y="96.1" width="25.20" height="99.40" fill="#fff" stroke="#777" stroke-width="0.8"/>
<text transform="translate(317.10,101.50) scale(0.84,1)" font-size="6.2" text-anchor="start" fill="#222" stroke="#222" stroke-width="0.18">Δd=0nm</text>
<line x1="317.30" y1="106.79" x2="329.70" y2="106.79" stroke="#ff9c9c" stroke-width="1.1"/>
<rect x="322.00" y="105.49" width="2.61" height="2.61" fill="#ff7b7b" stroke="#ff7b7b" stroke-width="0.8"/>
<text transform="translate(330.90,108.69) scale(0.84,1)" font-size="6.2" text-anchor="start" fill="#222" stroke="#222" stroke-width="0.18">PL</text>
<line x1="317.30" y1="113.88" x2="329.70" y2="113.88" stroke="#ffd08e" stroke-width="1.1"/>
<circle cx="323.30" cy="113.88" r="1.45" fill="#ffc46e" stroke="#ffc46e" stroke-width="0.8"/>
<text transform="translate(330.90,115.78) scale(0.84,1)" font-size="6.2" text-anchor="start" fill="#222" stroke="#222" stroke-width="0.18">L7B</text>
<line x1="317.30" y1="120.98" x2="329.70" y2="120.98" stroke="#b8ee88" stroke-width="1.1"/>
<polygon points="323.30,119.38 324.90,122.09 321.70,122.09" fill="#a6e866" stroke="#a6e866" stroke-width="0.8"/>
<text transform="translate(330.90,122.88) scale(0.84,1)" font-size="6.2" text-anchor="start" fill="#222" stroke="#222" stroke-width="0.18">L5B</text>
<line x1="317.30" y1="128.07" x2="329.70" y2="128.07" stroke="#22f0f2" stroke-width="1.1"/>
<polygon points="323.30,129.66 324.90,126.95 321.70,126.95" fill="#00eef0" stroke="#00eef0" stroke-width="0.8"/>
<text transform="translate(330.90,129.97) scale(0.84,1)" font-size="6.2" text-anchor="start" fill="#222" stroke="#222" stroke-width="0.18">L3B</text>
<line x1="317.30" y1="135.16" x2="329.70" y2="135.16" stroke="#8e9bfa" stroke-width="1.1"/>
<polygon points="323.30,133.42 325.04,135.16 323.30,136.90 321.56,135.16" fill="#6f7ff8" stroke="#6f7ff8" stroke-width="0.8"/>
<text transform="translate(330.90,137.06) scale(0.84,1)" font-size="6.2" text-anchor="start" fill="#222" stroke="#222" stroke-width="0.18">TL</text>
<line x1="317.30" y1="142.25" x2="329.70" y2="142.25" stroke="#ff70ff" stroke-width="1.1"/>
<circle cx="323.30" cy="142.25" r="1.45" fill="#ff52ff" stroke="#ff52ff" stroke-width="0.8"/>
<text transform="translate(330.90,144.15) scale(0.84,1)" font-size="6.2" text-anchor="start" fill="#222" stroke="#222" stroke-width="0.18">ISO</text>
<text transform="translate(317.10,151.15) scale(0.84,1)" font-size="6.2" text-anchor="start" fill="#222" stroke="#222" stroke-width="0.18">Δd=10nm</text>
<line x1="317.30" y1="156.44" x2="329.70" y2="156.44" stroke="#ffb0b0" stroke-width="1.1"/>
<rect x="321.91" y="155.04" width="2.79" height="2.79" fill="none" stroke="#ffb0b0" stroke-width="0.8"/>
<text transform="translate(330.90,158.34) scale(0.84,1)" font-size="6.2" text-anchor="start" fill="#222" stroke="#222" stroke-width="0.18">PL</text>
<line x1="317.30" y1="163.53" x2="329.70" y2="163.53" stroke="#ffd9a6" stroke-width="1.1"/>
<circle cx="323.30" cy="163.53" r="1.55" fill="none" stroke="#ffd9a6" stroke-width="0.8"/>
<text transform="translate(330.90,165.43) scale(0.84,1)" font-size="6.2" text-anchor="start" fill="#222" stroke="#222" stroke-width="0.18">L7B</text>
<line x1="317.30" y1="170.62" x2="329.70" y2="170.62" stroke="#c8f2a2" stroke-width="1.1"/>
<polygon points="323.30,168.92 325.00,171.82 321.60,171.82" fill="#c8f2a2" fill-opacity="0.55" stroke="#c8f2a2" stroke-width="0.8"/>
<text transform="translate(330.90,172.52) scale(0.84,1)" font-size="6.2" text-anchor="start" fill="#222" stroke="#222" stroke-width="0.18">L5B</text>
<line x1="317.30" y1="177.72" x2="329.70" y2="177.72" stroke="#44f2f4" stroke-width="1.1"/>
<polygon points="323.30,179.42 325.00,176.52 321.60,176.52" fill="#44f2f4" fill-opacity="0.55" stroke="#44f2f4" stroke-width="0.8"/>
<text transform="translate(330.90,179.62) scale(0.84,1)" font-size="6.2" text-anchor="start" fill="#222" stroke="#222" stroke-width="0.18">L3B</text>
<line x1="317.30" y1="184.81" x2="329.70" y2="184.81" stroke="#a8b2fb" stroke-width="1.1"/>
<polygon points="323.30,182.95 325.16,184.81 323.30,186.67 321.44,184.81" fill="none" stroke="#a8b2fb" stroke-width="0.8"/>
<text transform="translate(330.90,186.71) scale(0.84,1)" font-size="6.2" text-anchor="start" fill="#222" stroke="#222" stroke-width="0.18">TL</text>
<line x1="317.30" y1="191.90" x2="329.70" y2="191.90" stroke="#ff85ff" stroke-width="1.1"/>
<circle cx="323.30" cy="191.90" r="1.55" fill="none" stroke="#ff85ff" stroke-width="0.8"/>
<text transform="translate(330.90,193.80) scale(0.84,1)" font-size="6.2" text-anchor="start" fill="#222" stroke="#222" stroke-width="0.18">ISO</text>
<rect x="178.49" y="313.53" width="3.15" height="3.15" fill="none" stroke="#ffb0b0" stroke-width="0.8"/>
<circle cx="180.06" cy="306.29" r="1.75" fill="none" stroke="#ffd9a6" stroke-width="0.8"/>
<polygon points="180.06,295.55 181.99,298.82 178.14,298.82" fill="#c8f2a2" fill-opacity="0.55" stroke="#c8f2a2" stroke-width="0.8"/>
<polygon points="180.06,300.87 181.99,297.60 178.14,297.60" fill="#44f2f4" fill-opacity="0.55" stroke="#44f2f4" stroke-width="0.8"/>
<polygon points="180.06,299.29 182.16,301.39 180.06,303.49 177.96,301.39" fill="none" stroke="#a8b2fb" stroke-width="0.8"/>
<polyline points="180.06,303.65 214.79,360.75 249.52,390.82 284.25,410.90 318.98,424.52" fill="none" stroke="#ff85ff" stroke-width="1.0" stroke-linejoin="round"/>
<circle cx="180.06" cy="303.65" r="1.75" fill="none" stroke="#ff85ff" stroke-width="0.8"/>
<circle cx="214.79" cy="360.75" r="1.75" fill="none" stroke="#ff85ff" stroke-width="0.8"/>
<circle cx="249.52" cy="390.82" r="1.75" fill="none" stroke="#ff85ff" stroke-width="0.8"/>
<circle cx="284.25" cy="410.90" r="1.75" fill="none" stroke="#ff85ff" stroke-width="0.8"/>
<circle cx="318.98" cy="424.52" r="1.75" fill="none" stroke="#ff85ff" stroke-width="0.8"/>
<polyline points="180.06,309.52 214.79,336.46" fill="none" stroke="#22f0f2" stroke-width="1.0" stroke-linejoin="round"/>
<polygon points="180.06,311.28 181.82,308.29 178.30,308.29" fill="#00eef0" stroke="#00eef0" stroke-width="0.8"/>
<polygon points="214.79,338.22 216.55,335.23 213.03,335.23" fill="#00eef0" stroke="#00eef0" stroke-width="0.8"/>
<polyline points="180.06,336.65 214.79,370.25 249.52,408.55 284.25,425.99" fill="none" stroke="#ff70ff" stroke-width="1.0" stroke-linejoin="round"/>
<circle cx="180.06" cy="336.65" r="1.60" fill="#ff52ff" stroke="#ff52ff" stroke-width="0.8"/>
<circle cx="214.79" cy="370.25" r="1.60" fill="#ff52ff" stroke="#ff52ff" stroke-width="0.8"/>
<circle cx="249.52" cy="408.55" r="1.60" fill="#ff52ff" stroke="#ff52ff" stroke-width="0.8"/>
<circle cx="284.25" cy="425.99" r="1.60" fill="#ff52ff" stroke="#ff52ff" stroke-width="0.8"/>
<rect x="162.7" y="248.5" width="243.10" height="195.90" fill="none" stroke="#333" stroke-width="1.3"/>
<line x1="180.06" y1="444.4" x2="180.06" y2="441.00" stroke="#333" stroke-width="1"/>
<text transform="translate(180.06,455.90) scale(0.93,1)" font-size="9.3" text-anchor="middle" fill="#222" stroke="#222" stroke-width="0.15">70</text>
<line x1="214.79" y1="444.4" x2="214.79" y2="441.00" stroke="#333" stroke-width="1"/>
<text transform="translate(214.79,455.90) scale(0.93,1)" font-size="9.3" text-anchor="middle" fill="#222" stroke="#222" stroke-width="0.15">75</text>
<line x1="249.52" y1="444.4" x2="249.52" y2="441.00" stroke="#333" stroke-width="1"/>
<text transform="translate(249.52,455.90) scale(0.93,1)" font-size="9.3" text-anchor="middle" fill="#222" stroke="#222" stroke-width="0.15">80</text>
<line x1="284.25" y1="444.4" x2="284.25" y2="441.00" stroke="#333" stroke-width="1"/>
<text transform="translate(284.25,455.90) scale(0.93,1)" font-size="9.3" text-anchor="middle" fill="#222" stroke="#222" stroke-width="0.15">85</text>
<line x1="318.98" y1="444.4" x2="318.98" y2="441.00" stroke="#333" stroke-width="1"/>
<text transform="translate(318.98,455.90) scale(0.93,1)" font-size="9.3" text-anchor="middle" fill="#222" stroke="#222" stroke-width="0.15">90</text>
<line x1="353.71" y1="444.4" x2="353.71" y2="441.00" stroke="#333" stroke-width="1"/>
<text transform="translate(353.71,455.90) scale(0.93,1)" font-size="9.3" text-anchor="middle" fill="#222" stroke="#222" stroke-width="0.15">95</text>
<line x1="388.44" y1="444.4" x2="388.44" y2="441.00" stroke="#333" stroke-width="1"/>
<text transform="translate(388.44,455.90) scale(0.93,1)" font-size="9.3" text-anchor="middle" fill="#222" stroke="#222" stroke-width="0.15">100</text>
<line x1="197.43" y1="444.4" x2="197.43" y2="442.60" stroke="#333" stroke-width="1"/>
<line x1="232.16" y1="444.4" x2="232.16" y2="442.60" stroke="#333" stroke-width="1"/>
<line x1="266.89" y1="444.4" x2="266.89" y2="442.60" stroke="#333" stroke-width="1"/>
<line x1="301.61" y1="444.4" x2="301.61" y2="442.60" stroke="#333" stroke-width="1"/>
<line x1="336.34" y1="444.4" x2="336.34" y2="442.60" stroke="#333" stroke-width="1"/>
<line x1="371.07" y1="444.4" x2="371.07" y2="442.60" stroke="#333" stroke-width="1"/>
<line x1="162.7" y1="444.40" x2="166.10" y2="444.40" stroke="#333" stroke-width="1"/>
<text transform="translate(158.50,447.75) scale(0.93,1)" font-size="9.3" text-anchor="end" fill="#222" stroke="#222" stroke-width="0.15">45</text>
<line x1="162.7" y1="395.42" x2="166.10" y2="395.42" stroke="#333" stroke-width="1"/>
<text transform="translate(158.50,398.77) scale(0.93,1)" font-size="9.3" text-anchor="end" fill="#222" stroke="#222" stroke-width="0.15">50</text>
<line x1="162.7" y1="346.45" x2="166.10" y2="346.45" stroke="#333" stroke-width="1"/>
<text transform="translate(158.50,349.80) scale(0.93,1)" font-size="9.3" text-anchor="end" fill="#222" stroke="#222" stroke-width="0.15">55</text>
<line x1="162.7" y1="297.48" x2="166.10" y2="297.48" stroke="#333" stroke-width="1"/>
<text transform="translate(158.50,300.82) scale(0.93,1)" font-size="9.3" text-anchor="end" fill="#222" stroke="#222" stroke-width="0.15">60</text>
<line x1="162.7" y1="248.50" x2="166.10" y2="248.50" stroke="#333" stroke-width="1"/>
<text transform="translate(158.50,251.85) scale(0.93,1)" font-size="9.3" text-anchor="end" fill="#222" stroke="#222" stroke-width="0.15">65</text>
<line x1="162.7" y1="419.91" x2="164.50" y2="419.91" stroke="#333" stroke-width="1"/>
<line x1="162.7" y1="370.94" x2="164.50" y2="370.94" stroke="#333" stroke-width="1"/>
<line x1="162.7" y1="321.96" x2="164.50" y2="321.96" stroke="#333" stroke-width="1"/>
<line x1="162.7" y1="272.99" x2="164.50" y2="272.99" stroke="#333" stroke-width="1"/>
<text x="284.25" y="470.90" font-size="10.0" text-anchor="middle" fill="#222" stroke="#222" stroke-width="0.12">d<tspan font-size="7.2" dy="2.2">1</tspan><tspan dy="-2.2"> (nm)</tspan></text>
<text transform="translate(145.40,346.45) rotate(-90)" font-size="10.35" text-anchor="middle" fill="#222" stroke="#222" stroke-width="0.12">Critical Dimension (nm)</text>
<text x="139.0" y="467.1" font-size="13.3" fill="#222" stroke="#222" stroke-width="0.12">(c)</text>
<rect x="367.5" y="258.1" width="25.10" height="98.40" fill="#fff" stroke="#777" stroke-width="0.8"/>
<text transform="translate(368.30,263.50) scale(0.84,1)" font-size="6.2" text-anchor="start" fill="#222" stroke="#222" stroke-width="0.18">Δd=0nm</text>
<line x1="368.50" y1="268.72" x2="380.90" y2="268.72" stroke="#ff9c9c" stroke-width="1.1"/>
<rect x="373.19" y="267.41" width="2.61" height="2.61" fill="#ff7b7b" stroke="#ff7b7b" stroke-width="0.8"/>
<text transform="translate(382.10,270.62) scale(0.84,1)" font-size="6.2" text-anchor="start" fill="#222" stroke="#222" stroke-width="0.18">PL</text>
<line x1="368.50" y1="275.73" x2="380.90" y2="275.73" stroke="#ffd08e" stroke-width="1.1"/>
<circle cx="374.50" cy="275.73" r="1.45" fill="#ffc46e" stroke="#ffc46e" stroke-width="0.8"/>
<text transform="translate(382.10,277.63) scale(0.84,1)" font-size="6.2" text-anchor="start" fill="#222" stroke="#222" stroke-width="0.18">L7B</text>
<line x1="368.50" y1="282.75" x2="380.90" y2="282.75" stroke="#b8ee88" stroke-width="1.1"/>
<polygon points="374.50,281.15 376.10,283.86 372.90,283.86" fill="#a6e866" stroke="#a6e866" stroke-width="0.8"/>
<text transform="translate(382.10,284.65) scale(0.84,1)" font-size="6.2" text-anchor="start" fill="#222" stroke="#222" stroke-width="0.18">L5B</text>
<line x1="368.50" y1="289.76" x2="380.90" y2="289.76" stroke="#22f0f2" stroke-width="1.1"/>
<polygon points="374.50,291.36 376.10,288.65 372.90,288.65" fill="#00eef0" stroke="#00eef0" stroke-width="0.8"/>
<text transform="translate(382.10,291.66) scale(0.84,1)" font-size="6.2" text-anchor="start" fill="#222" stroke="#222" stroke-width="0.18">L3B</text>
<line x1="368.50" y1="296.78" x2="380.90" y2="296.78" stroke="#8e9bfa" stroke-width="1.1"/>
<polygon points="374.50,295.04 376.24,296.78 374.50,298.52 372.76,296.78" fill="#6f7ff8" stroke="#6f7ff8" stroke-width="0.8"/>
<text transform="translate(382.10,298.68) scale(0.84,1)" font-size="6.2" text-anchor="start" fill="#222" stroke="#222" stroke-width="0.18">TL</text>
<line x1="368.50" y1="303.79" x2="380.90" y2="303.79" stroke="#ff70ff" stroke-width="1.1"/>
<circle cx="374.50" cy="303.79" r="1.45" fill="#ff52ff" stroke="#ff52ff" stroke-width="0.8"/>
<text transform="translate(382.10,305.69) scale(0.84,1)" font-size="6.2" text-anchor="start" fill="#222" stroke="#222" stroke-width="0.18">ISO</text>
<text transform="translate(368.30,312.61) scale(0.84,1)" font-size="6.2" text-anchor="start" fill="#222" stroke="#222" stroke-width="0.18">Δd=10nm</text>
<line x1="368.50" y1="317.82" x2="380.90" y2="317.82" stroke="#ffb0b0" stroke-width="1.1"/>
<rect x="373.11" y="316.43" width="2.79" height="2.79" fill="none" stroke="#ffb0b0" stroke-width="0.8"/>
<text transform="translate(382.10,319.72) scale(0.84,1)" font-size="6.2" text-anchor="start" fill="#222" stroke="#222" stroke-width="0.18">PL</text>
<line x1="368.50" y1="324.84" x2="380.90" y2="324.84" stroke="#ffd9a6" stroke-width="1.1"/>
<circle cx="374.50" cy="324.84" r="1.55" fill="none" stroke="#ffd9a6" stroke-width="0.8"/>
<text transform="translate(382.10,326.74) scale(0.84,1)" font-size="6.2" text-anchor="start" fill="#222" stroke="#222" stroke-width="0.18">L7B</text>
<line x1="368.50" y1="331.85" x2="380.90" y2="331.85" stroke="#c8f2a2" stroke-width="1.1"/>
<polygon points="374.50,330.15 376.20,333.05 372.80,333.05" fill="#c8f2a2" fill-opacity="0.55" stroke="#c8f2a2" stroke-width="0.8"/>
<text transform="translate(382.10,333.75) scale(0.84,1)" font-size="6.2" text-anchor="start" fill="#222" stroke="#222" stroke-width="0.18">L5B</text>
<line x1="368.50" y1="338.87" x2="380.90" y2="338.87" stroke="#44f2f4" stroke-width="1.1"/>
<polygon points="374.50,340.57 376.20,337.68 372.80,337.68" fill="#44f2f4" fill-opacity="0.55" stroke="#44f2f4" stroke-width="0.8"/>
<text transform="translate(382.10,340.77) scale(0.84,1)" font-size="6.2" text-anchor="start" fill="#222" stroke="#222" stroke-width="0.18">L3B</text>
<line x1="368.50" y1="345.88" x2="380.90" y2="345.88" stroke="#a8b2fb" stroke-width="1.1"/>
<polygon points="374.50,344.02 376.36,345.88 374.50,347.74 372.64,345.88" fill="none" stroke="#a8b2fb" stroke-width="0.8"/>
<text transform="translate(382.10,347.78) scale(0.84,1)" font-size="6.2" text-anchor="start" fill="#222" stroke="#222" stroke-width="0.18">TL</text>
<line x1="368.50" y1="352.90" x2="380.90" y2="352.90" stroke="#ff85ff" stroke-width="1.1"/>
<circle cx="374.50" cy="352.90" r="1.55" fill="none" stroke="#ff85ff" stroke-width="0.8"/>
<text transform="translate(382.10,354.80) scale(0.84,1)" font-size="6.2" text-anchor="start" fill="#222" stroke="#222" stroke-width="0.18">ISO</text>
</svg>
</body></html>
